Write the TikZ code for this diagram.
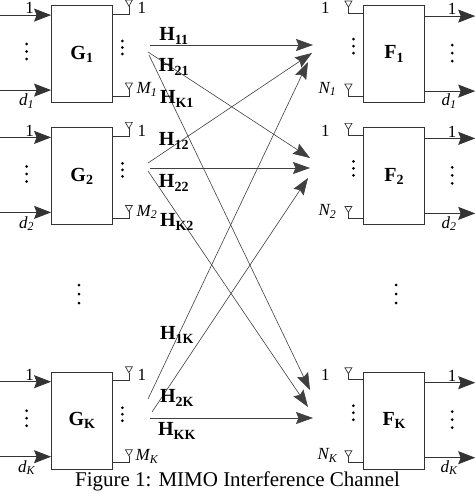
\documentclass[tikz,border=0pt]{standalone}
\usepackage{fontspec}
\setmainfont{Liberation Serif}
\usetikzlibrary{arrows.meta, positioning}
\tikzstyle{component} = [rectangle, draw=black!80, line width=0.8pt, fill=white,
    minimum width=61pt, minimum height=97pt, inner sep=0pt,
    font=\fontsize{20}{22}\selectfont\bfseries]
\tikzstyle{sigline} = [draw=black!80, line width=0.8pt, -{Stealth[length=17pt, width=13pt, inset=2.5pt]}]
\tikzstyle{chanline} = [draw=black!75, line width=0.6pt, -{Stealth[length=17pt, width=12pt, inset=2.5pt]}]
\tikzstyle{antenna} = [draw=black!80, line width=0.7pt]
\tikzstyle{lab} = [inner sep=0pt, font=\fontsize{17}{19}\selectfont]
\tikzstyle{hlab} = [inner sep=0pt, font=\fontsize{20}{22}\selectfont\bfseries]

\begin{document}
\begin{tikzpicture}[x=1pt, y=-1pt]
    \useasboundingbox (0,0) rectangle (474,494);
    % Boxes
    \node [component] (G1) at (82,54) {G\textsubscript{1}};
    \node [component, below=24.5pt of G1] (G2) {G\textsubscript{2}};
    \node [component, below=146.5pt of G2] (GK) {G\textsubscript{K}};
    \node [component, right=250.5pt of G1] (F1) {F\textsubscript{1}};
    \node [component, right=250.5pt of G2] (F2) {F\textsubscript{2}};
    \node [component, right=250.5pt of GK] (FK) {F\textsubscript{K}};
    % Ports of every row
    \foreach \g/\f/\i in {G1/F1/1, G2/F2/2, GK/FK/K} {
        % transmitter inputs
        \coordinate (\g-i1) at ([shift={(-51.5,10)}]\g.north west);
        \coordinate (\g-i2) at ([shift={(-51.5,85)}]\g.north west);
        \path[sigline] (\g-i1) -- (\g-i1 -| \g.west);
        \path[sigline] (\g-i2) -- (\g-i2 -| \g.west);
        \node [lab] (\g-l1) at ([shift={(-21.5,3)}]\g.north west) {1};
        \node [lab] (\g-ld) at ([shift={(-24.5,96)}]\g.north west) {\itshape d\textsubscript{\i}};
        \foreach \d in {39,46.5,54}
            \fill ([shift={(-24.5,\d)}]\g.north west) circle (1.5);
        % transmitter antennas
        \coordinate (\g-a1) at ([shift={(16,1)}]\g.north east);
        \coordinate (\g-a2) at ([shift={(16,84)}]\g.north east);
        \draw[antenna] ([shift={(0,9)}]\g.north east) -| (\g-a1);
        \draw[antenna] ([shift={(0,91)}]\g.north east) -| (\g-a2);
        \draw[antenna] (\g-a1) -- ++(-3.5,-6) -- ++(7,0) -- cycle;
        \draw[antenna] (\g-a2) -- ++(-3.5,-6) -- ++(7,0) -- cycle;
        \node [lab] (\g-r1) at ([shift={(29,3)}]\g.north east) {1};
        \node [lab] (\g-rm) at ([shift={(34,84.5)}]\g.north east) {\itshape M\textsubscript{\i}};
        \foreach \d in {36,42.5,49}
            \fill ([shift={(9.5,\d)}]\g.north east) circle (1.5);
        % receiver antennas
        \coordinate (\f-a1) at ([shift={(-15,2)}]\f.north west);
        \coordinate (\f-a2) at ([shift={(-15,85)}]\f.north west);
        \draw[antenna] ([shift={(0,8)}]\f.north west) -| (\f-a1);
        \draw[antenna] ([shift={(0,91)}]\f.north west) -| (\f-a2);
        \draw[antenna] (\f-a1) -- ++(-3.5,-6) -- ++(7,0) -- cycle;
        \draw[antenna] (\f-a2) -- ++(-3.5,-6) -- ++(7,0) -- cycle;
        \node [lab] (\f-l1) at ([shift={(-38,3)}]\f.north west) {1};
        \node [lab] (\f-ln) at ([shift={(-36,84)}]\f.north west) {\itshape N\textsubscript{\i}};
        \foreach \d in {34,41,48}
            \fill ([shift={(-10,\d)}]\f.north west) circle (1.5);
        % receiver outputs
        \coordinate (\f-o1) at ([shift={(50,11)}]\f.north east);
        \coordinate (\f-o2) at ([shift={(50,86)}]\f.north east);
        \path[sigline] (\f-o1 -| \f.east) -- (\f-o1);
        \path[sigline] (\f-o2 -| \f.east) -- (\f-o2);
        \node [lab] (\f-r1) at ([shift={(27,4)}]\f.north east) {1};
        \node [lab] (\f-rd) at ([shift={(24,96)}]\f.north east) {\itshape d\textsubscript{\i}};
        \foreach \d in {40,48,56}
            \fill ([shift={(27,\d)}]\f.north east) circle (1.5);
    }
    % Rows in between
    \foreach \d in {285,294,303} {
        \fill (79,\d) circle (1.5);
        \fill (396,\d) circle (1.5);
    }
    % Channel ends
    \coordinate (g1a) at (150,45);  \coordinate (g1b) at (148,52);  \coordinate (g1c) at (149,55);
    \coordinate (g2a) at (148,163); \coordinate (g2b) at (150,168); \coordinate (g2c) at (148,171);
    \coordinate (gKa) at (148,399); \coordinate (gKb) at (152,412); \coordinate (gKc) at (150,418);
    \coordinate (f1a) at (313,45);  \coordinate (f1b) at (312,53);  \coordinate (f1c) at (308,62);
    \coordinate (f2a) at (310,158); \coordinate (f2b) at (310,168); \coordinate (f2c) at (308,178);
    \coordinate (fKa) at (310,390); \coordinate (fKb) at (308,407); \coordinate (fKc) at (313,418);
    % Channels
    \path[chanline] (g1a) -- (f1a);
    \path[chanline] (g1b) -- (f2a);
    \path[chanline] (g1c) -- (fKa);
    \path[chanline] (g2a) -- (f1b);
    \path[chanline] (g2b) -- (f2b);
    \path[chanline] (g2c) -- (fKb);
    \path[chanline] (gKa) -- (f1c);
    \path[chanline] (gKb) -- (f2c);
    \path[chanline] (gKc) -- (fKc);
    \node [hlab] (h11) at (174,36)  {H\textsubscript{11}};
    \node [hlab] (h21) at (174,67)  {H\textsubscript{21}};
    \node [hlab] (hK1) at (177,99)  {H\textsubscript{K1}};
    \node [hlab] (h12) at (174,141) {H\textsubscript{12}};
    \node [hlab] (h22) at (174,183) {H\textsubscript{22}};
    \node [hlab] (hK2) at (177,222) {H\textsubscript{K2}};
    \node [hlab] (h1K) at (177,335) {H\textsubscript{1K}};
    \node [hlab] (h2K) at (177,398) {H\textsubscript{2K}};
    \node [hlab] (hKK) at (177,431) {H\textsubscript{KK}};
    % Caption
    \node [font=\fontsize{21}{24}\selectfont] (caption) at (237.5,481) {Figure 1: MIMO Interference Channel};
\end{tikzpicture}
\end{document}
